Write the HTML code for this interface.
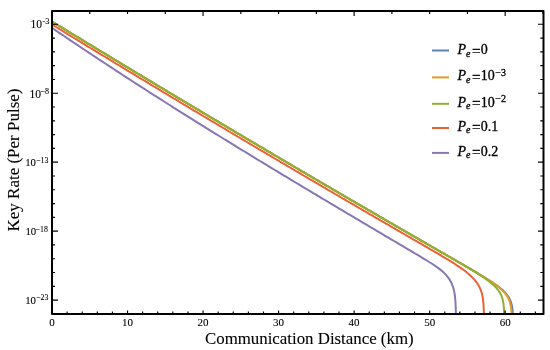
<!DOCTYPE html>
<html><head><meta charset="utf-8"><style>
html,body{margin:0;padding:0;background:#fff;}
svg{display:block;}
text{font-family:"Liberation Serif",serif;fill:#000;stroke:#000;stroke-width:0.3px;}
.tl text{stroke-width:0.08px;}
.tt{stroke-width:0.1px;}
</style></head><body>
<svg width="550" height="350" viewBox="0 0 550 350">
<rect width="550" height="350" fill="#fff"/>
<defs><clipPath id="c"><rect x="52" y="10.5" width="491.5" height="303.4"/></clipPath></defs>
<g clip-path="url(#c)" fill="none" stroke-width="2" stroke-linejoin="round">
<path d="M52.00 21.61 L54.00 22.83 L56.00 24.05 L58.00 25.27 L60.00 26.49 L62.00 27.71 L64.00 28.92 L66.00 30.14 L68.00 31.36 L70.00 32.58 L72.00 33.80 L74.00 35.01 L76.00 36.23 L78.00 37.45 L80.00 38.66 L82.00 39.88 L84.00 41.09 L86.00 42.31 L88.00 43.52 L90.00 44.73 L92.00 45.95 L94.00 47.16 L96.00 48.37 L98.00 49.59 L100.00 50.80 L102.00 52.01 L104.00 53.22 L106.00 54.43 L108.00 55.64 L110.00 56.85 L112.00 58.06 L114.00 59.27 L116.00 60.48 L118.00 61.69 L120.00 62.90 L122.00 64.11 L124.00 65.31 L126.00 66.52 L128.00 67.73 L130.00 68.94 L132.00 70.14 L134.00 71.35 L136.00 72.55 L138.00 73.76 L140.00 74.96 L142.00 76.17 L144.00 77.37 L146.00 78.57 L148.00 79.78 L150.00 80.98 L152.00 82.18 L154.00 83.38 L156.00 84.59 L158.00 85.79 L160.00 86.99 L162.00 88.19 L164.00 89.39 L166.00 90.59 L168.00 91.79 L170.00 92.99 L172.00 94.18 L174.00 95.38 L176.00 96.58 L178.00 97.78 L180.00 98.97 L182.00 100.17 L184.00 101.37 L186.00 102.56 L188.00 103.76 L190.00 104.95 L192.00 106.15 L194.00 107.34 L196.00 108.54 L198.00 109.73 L200.00 110.92 L202.00 112.12 L204.00 113.31 L206.00 114.50 L208.00 115.69 L210.00 116.89 L212.00 118.08 L214.00 119.27 L216.00 120.46 L218.00 121.65 L220.00 122.84 L222.00 124.03 L224.00 125.21 L226.00 126.40 L228.00 127.59 L230.00 128.78 L232.00 129.97 L234.00 131.15 L236.00 132.34 L238.00 133.53 L240.00 134.71 L242.00 135.90 L244.00 137.08 L246.00 138.27 L248.00 139.45 L250.00 140.63 L252.00 141.82 L254.00 143.00 L256.00 144.18 L258.00 145.37 L260.00 146.55 L262.00 147.73 L264.00 148.91 L266.00 150.09 L268.00 151.27 L270.00 152.45 L272.00 153.63 L274.00 154.81 L276.00 155.99 L278.00 157.17 L280.00 158.35 L282.00 159.53 L284.00 160.70 L286.00 161.88 L288.00 163.06 L290.00 164.23 L292.00 165.41 L294.00 166.58 L296.00 167.76 L298.00 168.94 L300.00 170.11 L302.00 171.28 L304.00 172.46 L306.00 173.63 L308.00 174.80 L310.00 175.98 L312.00 177.15 L314.00 178.32 L316.00 179.49 L318.00 180.66 L320.00 181.83 L322.00 183.00 L324.00 184.17 L326.00 185.34 L328.00 186.51 L330.00 187.68 L332.00 188.85 L334.00 190.02 L336.00 191.19 L338.00 192.35 L340.00 193.52 L342.00 194.69 L344.00 195.85 L346.00 197.02 L348.00 198.18 L350.00 199.35 L352.00 200.51 L354.00 201.68 L356.00 202.84 L358.00 204.01 L360.00 205.17 L362.00 206.33 L364.00 207.49 L366.00 208.66 L368.00 209.82 L370.00 210.98 L372.00 212.14 L374.00 213.30 L376.00 214.46 L378.00 215.62 L380.00 216.78 L382.00 217.94 L384.00 219.10 L386.00 220.26 L388.00 221.42 L390.00 222.57 L392.00 223.73 L394.00 224.89 L396.00 226.04 L398.00 227.20 L400.00 228.36 L402.00 229.51 L404.00 230.67 L406.00 231.82 L408.00 232.97 L410.00 234.13 L412.00 235.28 L414.00 236.44 L416.00 237.59 L418.00 238.74 L420.00 239.89 L422.00 241.04 L424.00 242.20 L426.00 243.35 L428.00 244.50 L430.00 245.65 L432.00 246.80 L434.00 247.95 L436.00 249.10 L438.00 250.25 L440.00 251.40 L442.00 252.55 L444.00 253.70 L446.00 254.85 L448.00 256.00 L450.00 257.15 L452.00 258.30 L454.00 259.45 L456.00 260.60 L458.00 261.75 L460.00 262.91 L462.00 264.06 L464.00 265.22 L466.00 266.38 L468.00 267.54 L470.00 268.70 L472.00 269.87 L474.00 271.04 L476.00 272.22 L478.00 273.41 L480.00 274.60 L482.00 275.81 L484.00 277.03 L486.00 278.26 L488.00 279.52 L490.00 280.80 L492.00 282.11 L494.00 283.46 L496.00 284.87 L498.00 286.34 L500.00 287.90 L502.00 289.58 L504.00 291.45 L505.20 292.69 L505.35 292.85 L505.49 293.01 L505.64 293.18 L505.79 293.34 L505.94 293.51 L506.08 293.68 L506.23 293.86 L506.38 294.03 L506.52 294.21 L506.67 294.39 L506.82 294.58 L506.96 294.76 L507.11 294.96 L507.26 295.15 L507.41 295.35 L507.55 295.55 L507.70 295.76 L507.85 295.97 L507.99 296.18 L508.14 296.40 L508.29 296.62 L508.43 296.85 L508.58 297.09 L508.73 297.33 L508.88 297.58 L509.02 297.83 L509.17 298.09 L509.32 298.36 L509.46 298.64 L509.61 298.93 L509.76 299.22 L509.90 299.53 L510.05 299.85 L510.20 300.18 L510.35 300.53 L510.49 300.89 L510.64 301.27 L510.79 301.67 L510.93 302.10 L511.30 303.26 L511.60 304.40 L511.86 305.52 L512.07 306.63 L512.25 307.74 L512.41 308.83 L512.53 309.92 L512.64 310.99 L512.73 312.07 L512.81 313.14 L512.87 314.20 L512.92 315.27 L512.97 316.33 L513.00 317.38 L513.04 318.44 L513.06 319.49 L513.08 320.55 L513.10 321.60 L513.12 322.65 L513.13 323.70 L513.14 324.75 L513.15 325.80 L513.16 326.85 L513.17 327.90 L513.17 328.94 L513.18 329.99 L513.18 330.00" stroke="#5E81B5"/>
<path d="M52.00 21.61 L54.00 22.83 L56.00 24.05 L58.00 25.27 L60.00 26.49 L62.00 27.71 L64.00 28.92 L66.00 30.14 L68.00 31.36 L70.00 32.58 L72.00 33.80 L74.00 35.01 L76.00 36.23 L78.00 37.45 L80.00 38.66 L82.00 39.88 L84.00 41.09 L86.00 42.31 L88.00 43.52 L90.00 44.73 L92.00 45.95 L94.00 47.16 L96.00 48.37 L98.00 49.59 L100.00 50.80 L102.00 52.01 L104.00 53.22 L106.00 54.43 L108.00 55.64 L110.00 56.85 L112.00 58.06 L114.00 59.27 L116.00 60.48 L118.00 61.69 L120.00 62.90 L122.00 64.11 L124.00 65.31 L126.00 66.52 L128.00 67.73 L130.00 68.94 L132.00 70.14 L134.00 71.35 L136.00 72.55 L138.00 73.76 L140.00 74.96 L142.00 76.17 L144.00 77.37 L146.00 78.57 L148.00 79.78 L150.00 80.98 L152.00 82.18 L154.00 83.38 L156.00 84.59 L158.00 85.79 L160.00 86.99 L162.00 88.19 L164.00 89.39 L166.00 90.59 L168.00 91.79 L170.00 92.99 L172.00 94.18 L174.00 95.38 L176.00 96.58 L178.00 97.78 L180.00 98.97 L182.00 100.17 L184.00 101.37 L186.00 102.56 L188.00 103.76 L190.00 104.95 L192.00 106.15 L194.00 107.34 L196.00 108.54 L198.00 109.73 L200.00 110.92 L202.00 112.12 L204.00 113.31 L206.00 114.50 L208.00 115.69 L210.00 116.89 L212.00 118.08 L214.00 119.27 L216.00 120.46 L218.00 121.65 L220.00 122.84 L222.00 124.03 L224.00 125.21 L226.00 126.40 L228.00 127.59 L230.00 128.78 L232.00 129.97 L234.00 131.15 L236.00 132.34 L238.00 133.53 L240.00 134.71 L242.00 135.90 L244.00 137.08 L246.00 138.27 L248.00 139.45 L250.00 140.63 L252.00 141.82 L254.00 143.00 L256.00 144.18 L258.00 145.37 L260.00 146.55 L262.00 147.73 L264.00 148.91 L266.00 150.09 L268.00 151.27 L270.00 152.45 L272.00 153.63 L274.00 154.81 L276.00 155.99 L278.00 157.17 L280.00 158.35 L282.00 159.53 L284.00 160.70 L286.00 161.88 L288.00 163.06 L290.00 164.23 L292.00 165.41 L294.00 166.58 L296.00 167.76 L298.00 168.94 L300.00 170.11 L302.00 171.28 L304.00 172.46 L306.00 173.63 L308.00 174.80 L310.00 175.98 L312.00 177.15 L314.00 178.32 L316.00 179.49 L318.00 180.66 L320.00 181.83 L322.00 183.00 L324.00 184.17 L326.00 185.34 L328.00 186.51 L330.00 187.68 L332.00 188.85 L334.00 190.02 L336.00 191.19 L338.00 192.35 L340.00 193.52 L342.00 194.69 L344.00 195.85 L346.00 197.02 L348.00 198.18 L350.00 199.35 L352.00 200.51 L354.00 201.68 L356.00 202.84 L358.00 204.01 L360.00 205.17 L362.00 206.33 L364.00 207.49 L366.00 208.66 L368.00 209.82 L370.00 210.98 L372.00 212.14 L374.00 213.30 L376.00 214.46 L378.00 215.62 L380.00 216.78 L382.00 217.94 L384.00 219.10 L386.00 220.26 L388.00 221.42 L390.00 222.57 L392.00 223.73 L394.00 224.89 L396.00 226.04 L398.00 227.20 L400.00 228.36 L402.00 229.51 L404.00 230.67 L406.00 231.82 L408.00 232.97 L410.00 234.13 L412.00 235.28 L414.00 236.44 L416.00 237.59 L418.00 238.74 L420.00 239.89 L422.00 241.04 L424.00 242.20 L426.00 243.35 L428.00 244.50 L430.00 245.65 L432.00 246.80 L434.00 247.95 L436.00 249.10 L438.00 250.25 L440.00 251.40 L442.00 252.55 L444.00 253.70 L446.00 254.85 L448.00 256.00 L450.00 257.15 L452.00 258.30 L454.00 259.45 L456.00 260.60 L458.00 261.76 L460.00 262.91 L462.00 264.07 L464.00 265.23 L466.00 266.39 L468.00 267.55 L470.00 268.72 L472.00 269.89 L474.00 271.07 L476.00 272.25 L478.00 273.44 L480.00 274.64 L482.00 275.86 L484.00 277.09 L486.00 278.34 L488.00 279.61 L490.00 280.91 L492.00 282.25 L494.00 283.63 L496.00 285.07 L498.00 286.60 L500.00 288.24 L502.00 290.03 L503.90 291.95 L504.05 292.11 L504.19 292.27 L504.34 292.44 L504.49 292.60 L504.64 292.77 L504.78 292.94 L504.93 293.12 L505.08 293.29 L505.22 293.47 L505.37 293.65 L505.52 293.84 L505.66 294.03 L505.81 294.22 L505.96 294.41 L506.11 294.61 L506.25 294.81 L506.40 295.02 L506.55 295.23 L506.69 295.44 L506.84 295.66 L506.99 295.89 L507.13 296.11 L507.28 296.35 L507.43 296.59 L507.58 296.84 L507.72 297.09 L507.87 297.35 L508.02 297.62 L508.16 297.90 L508.31 298.19 L508.46 298.49 L508.60 298.79 L508.75 299.11 L508.90 299.45 L509.05 299.79 L509.19 300.16 L509.34 300.54 L509.49 300.94 L509.63 301.36 L510.00 302.52 L510.30 303.66 L510.56 304.78 L510.77 305.90 L510.95 307.00 L511.11 308.09 L511.23 309.18 L511.34 310.26 L511.43 311.33 L511.51 312.40 L511.57 313.47 L511.62 314.53 L511.67 315.59 L511.70 316.65 L511.74 317.70 L511.76 318.76 L511.78 319.81 L511.80 320.86 L511.82 321.91 L511.83 322.96 L511.84 324.01 L511.85 325.06 L511.86 326.11 L511.87 327.16 L511.87 328.21 L511.88 329.26 L511.88 330.00" stroke="#E19C24"/>
<path d="M52.00 21.61 L54.00 22.83 L56.00 24.05 L58.00 25.27 L60.00 26.49 L62.00 27.71 L64.00 28.92 L66.00 30.14 L68.00 31.36 L70.00 32.58 L72.00 33.80 L74.00 35.01 L76.00 36.23 L78.00 37.45 L80.00 38.66 L82.00 39.88 L84.00 41.09 L86.00 42.31 L88.00 43.52 L90.00 44.73 L92.00 45.95 L94.00 47.16 L96.00 48.37 L98.00 49.59 L100.00 50.80 L102.00 52.01 L104.00 53.22 L106.00 54.43 L108.00 55.64 L110.00 56.85 L112.00 58.06 L114.00 59.27 L116.00 60.48 L118.00 61.69 L120.00 62.90 L122.00 64.11 L124.00 65.31 L126.00 66.52 L128.00 67.73 L130.00 68.94 L132.00 70.14 L134.00 71.35 L136.00 72.55 L138.00 73.76 L140.00 74.96 L142.00 76.17 L144.00 77.37 L146.00 78.57 L148.00 79.78 L150.00 80.98 L152.00 82.18 L154.00 83.38 L156.00 84.59 L158.00 85.79 L160.00 86.99 L162.00 88.19 L164.00 89.39 L166.00 90.59 L168.00 91.79 L170.00 92.99 L172.00 94.18 L174.00 95.38 L176.00 96.58 L178.00 97.78 L180.00 98.97 L182.00 100.17 L184.00 101.37 L186.00 102.56 L188.00 103.76 L190.00 104.95 L192.00 106.15 L194.00 107.34 L196.00 108.54 L198.00 109.73 L200.00 110.92 L202.00 112.12 L204.00 113.31 L206.00 114.50 L208.00 115.69 L210.00 116.89 L212.00 118.08 L214.00 119.27 L216.00 120.46 L218.00 121.65 L220.00 122.84 L222.00 124.03 L224.00 125.21 L226.00 126.40 L228.00 127.59 L230.00 128.78 L232.00 129.97 L234.00 131.15 L236.00 132.34 L238.00 133.53 L240.00 134.71 L242.00 135.90 L244.00 137.08 L246.00 138.27 L248.00 139.45 L250.00 140.63 L252.00 141.82 L254.00 143.00 L256.00 144.18 L258.00 145.37 L260.00 146.55 L262.00 147.73 L264.00 148.91 L266.00 150.09 L268.00 151.27 L270.00 152.45 L272.00 153.63 L274.00 154.81 L276.00 155.99 L278.00 157.17 L280.00 158.35 L282.00 159.53 L284.00 160.70 L286.00 161.88 L288.00 163.06 L290.00 164.23 L292.00 165.41 L294.00 166.58 L296.00 167.76 L298.00 168.94 L300.00 170.11 L302.00 171.28 L304.00 172.46 L306.00 173.63 L308.00 174.80 L310.00 175.98 L312.00 177.15 L314.00 178.32 L316.00 179.49 L318.00 180.66 L320.00 181.83 L322.00 183.00 L324.00 184.17 L326.00 185.34 L328.00 186.51 L330.00 187.68 L332.00 188.85 L334.00 190.02 L336.00 191.19 L338.00 192.35 L340.00 193.52 L342.00 194.69 L344.00 195.85 L346.00 197.02 L348.00 198.18 L350.00 199.35 L352.00 200.51 L354.00 201.68 L356.00 202.84 L358.00 204.01 L360.00 205.17 L362.00 206.33 L364.00 207.49 L366.00 208.66 L368.00 209.82 L370.00 210.98 L372.00 212.14 L374.00 213.30 L376.00 214.46 L378.00 215.62 L380.00 216.78 L382.00 217.94 L384.00 219.10 L386.00 220.26 L388.00 221.42 L390.00 222.57 L392.00 223.73 L394.00 224.89 L396.00 226.04 L398.00 227.20 L400.00 228.36 L402.00 229.51 L404.00 230.67 L406.00 231.82 L408.00 232.98 L410.00 234.13 L412.00 235.28 L414.00 236.44 L416.00 237.59 L418.00 238.74 L420.00 239.90 L422.00 241.05 L424.00 242.20 L426.00 243.35 L428.00 244.51 L430.00 245.66 L432.00 246.81 L434.00 247.96 L436.00 249.11 L438.00 250.27 L440.00 251.42 L442.00 252.57 L444.00 253.73 L446.00 254.88 L448.00 256.04 L450.00 257.19 L452.00 258.35 L454.00 259.51 L456.00 260.67 L458.00 261.84 L460.00 263.01 L462.00 264.18 L464.00 265.36 L466.00 266.54 L468.00 267.73 L470.00 268.93 L472.00 270.14 L474.00 271.36 L476.00 272.60 L478.00 273.85 L480.00 275.13 L482.00 276.44 L484.00 277.79 L486.00 279.18 L488.00 280.63 L490.00 282.16 L492.00 283.80 L494.00 285.58 L496.00 287.58 L496.30 287.90 L496.45 288.06 L496.59 288.23 L496.74 288.39 L496.89 288.56 L497.04 288.73 L497.18 288.91 L497.33 289.08 L497.48 289.26 L497.62 289.44 L497.77 289.62 L497.92 289.81 L498.06 290.00 L498.21 290.19 L498.36 290.39 L498.51 290.59 L498.65 290.79 L498.80 291.00 L498.95 291.22 L499.09 291.43 L499.24 291.65 L499.39 291.88 L499.53 292.11 L499.68 292.35 L499.83 292.59 L499.98 292.84 L500.12 293.10 L500.27 293.36 L500.42 293.63 L500.56 293.91 L500.71 294.20 L500.86 294.50 L501.00 294.81 L501.15 295.13 L501.30 295.47 L501.45 295.82 L501.59 296.18 L501.74 296.57 L501.89 296.97 L502.03 297.39 L502.40 298.56 L502.70 299.71 L502.96 300.83 L503.17 301.95 L503.35 303.06 L503.51 304.15 L503.63 305.24 L503.74 306.32 L503.83 307.40 L503.91 308.47 L503.97 309.53 L504.02 310.60 L504.07 311.66 L504.10 312.72 L504.14 313.77 L504.16 314.83 L504.18 315.88 L504.20 316.93 L504.22 317.98 L504.23 319.03 L504.24 320.08 L504.25 321.13 L504.26 322.18 L504.27 323.23 L504.27 324.28 L504.28 325.33 L504.28 326.38 L504.28 327.42 L504.29 328.47 L504.29 329.52 L504.29 330.00" stroke="#8FB032"/>
<path d="M52.00 24.53 L54.00 25.76 L56.00 26.98 L58.00 28.21 L60.00 29.43 L62.00 30.65 L64.00 31.88 L66.00 33.10 L68.00 34.32 L70.00 35.54 L72.00 36.77 L74.00 37.99 L76.00 39.21 L78.00 40.43 L80.00 41.65 L82.00 42.87 L84.00 44.09 L86.00 45.31 L88.00 46.52 L90.00 47.74 L92.00 48.96 L94.00 50.18 L96.00 51.39 L98.00 52.61 L100.00 53.83 L102.00 55.04 L104.00 56.26 L106.00 57.47 L108.00 58.68 L110.00 59.90 L112.00 61.11 L114.00 62.33 L116.00 63.54 L118.00 64.75 L120.00 65.96 L122.00 67.17 L124.00 68.38 L126.00 69.60 L128.00 70.81 L130.00 72.02 L132.00 73.23 L134.00 74.43 L136.00 75.64 L138.00 76.85 L140.00 78.06 L142.00 79.27 L144.00 80.47 L146.00 81.68 L148.00 82.89 L150.00 84.09 L152.00 85.30 L154.00 86.50 L156.00 87.71 L158.00 88.91 L160.00 90.12 L162.00 91.32 L164.00 92.52 L166.00 93.73 L168.00 94.93 L170.00 96.13 L172.00 97.33 L174.00 98.53 L176.00 99.73 L178.00 100.93 L180.00 102.13 L182.00 103.33 L184.00 104.53 L186.00 105.73 L188.00 106.93 L190.00 108.13 L192.00 109.32 L194.00 110.52 L196.00 111.72 L198.00 112.91 L200.00 114.11 L202.00 115.31 L204.00 116.50 L206.00 117.70 L208.00 118.89 L210.00 120.08 L212.00 121.28 L214.00 122.47 L216.00 123.66 L218.00 124.86 L220.00 126.05 L222.00 127.24 L224.00 128.43 L226.00 129.62 L228.00 130.81 L230.00 132.00 L232.00 133.19 L234.00 134.38 L236.00 135.57 L238.00 136.76 L240.00 137.94 L242.00 139.13 L244.00 140.32 L246.00 141.51 L248.00 142.69 L250.00 143.88 L252.00 145.06 L254.00 146.25 L256.00 147.43 L258.00 148.62 L260.00 149.80 L262.00 150.98 L264.00 152.17 L266.00 153.35 L268.00 154.53 L270.00 155.71 L272.00 156.90 L274.00 158.08 L276.00 159.26 L278.00 160.44 L280.00 161.62 L282.00 162.80 L284.00 163.98 L286.00 165.16 L288.00 166.33 L290.00 167.51 L292.00 168.69 L294.00 169.87 L296.00 171.04 L298.00 172.22 L300.00 173.40 L302.00 174.57 L304.00 175.75 L306.00 176.92 L308.00 178.09 L310.00 179.27 L312.00 180.44 L314.00 181.62 L316.00 182.79 L318.00 183.96 L320.00 185.13 L322.00 186.30 L324.00 187.47 L326.00 188.65 L328.00 189.82 L330.00 190.99 L332.00 192.16 L334.00 193.32 L336.00 194.49 L338.00 195.66 L340.00 196.83 L342.00 198.00 L344.00 199.16 L346.00 200.33 L348.00 201.50 L350.00 202.66 L352.00 203.83 L354.00 204.99 L356.00 206.16 L358.00 207.32 L360.00 208.49 L362.00 209.65 L364.00 210.81 L366.00 211.98 L368.00 213.14 L370.00 214.30 L372.00 215.46 L374.00 216.62 L376.00 217.78 L378.00 218.94 L380.00 220.10 L382.00 221.26 L384.00 222.42 L386.00 223.58 L388.00 224.74 L390.00 225.90 L392.00 227.06 L394.00 228.21 L396.00 229.37 L398.00 230.53 L400.00 231.68 L402.00 232.84 L404.00 234.00 L406.00 235.15 L408.00 236.31 L410.00 237.46 L412.00 238.62 L414.00 239.77 L416.00 240.93 L418.00 242.09 L420.00 243.24 L422.00 244.40 L424.00 245.56 L426.00 246.72 L428.00 247.88 L430.00 249.04 L432.00 250.21 L434.00 251.37 L436.00 252.55 L438.00 253.72 L440.00 254.90 L442.00 256.09 L444.00 257.29 L446.00 258.49 L448.00 259.71 L450.00 260.94 L452.00 262.19 L454.00 263.46 L456.00 264.75 L458.00 266.08 L460.00 267.44 L462.00 268.84 L464.00 270.30 L466.00 271.83 L468.00 273.45 L470.00 275.19 L472.00 277.07 L474.00 279.16 L476.00 281.56 L476.15 281.75 L476.29 281.95 L476.44 282.15 L476.59 282.35 L476.74 282.55 L476.88 282.76 L477.03 282.97 L477.18 283.18 L477.32 283.40 L477.47 283.62 L477.62 283.84 L477.76 284.07 L477.91 284.30 L478.06 284.54 L478.21 284.78 L478.35 285.02 L478.50 285.27 L478.65 285.53 L478.79 285.79 L478.94 286.06 L479.09 286.33 L479.23 286.62 L479.38 286.90 L479.53 287.20 L479.68 287.50 L479.82 287.81 L479.97 288.14 L480.12 288.47 L480.26 288.81 L480.41 289.16 L480.56 289.53 L480.70 289.91 L480.85 290.30 L481.00 290.71 L481.15 291.14 L481.29 291.59 L481.44 292.06 L481.59 292.55 L481.73 293.07 L482.10 294.50 L482.40 295.91 L482.66 297.30 L482.87 298.67 L483.05 300.03 L483.21 301.37 L483.33 302.70 L483.44 304.03 L483.53 305.35 L483.61 306.66 L483.67 307.97 L483.72 309.27 L483.77 310.57 L483.80 311.86 L483.84 313.15 L483.86 314.44 L483.88 315.73 L483.90 317.01 L483.92 318.30 L483.93 319.58 L483.94 320.86 L483.95 322.15 L483.96 323.43 L483.97 324.71 L483.97 325.99 L483.98 327.26 L483.98 328.54 L483.98 329.82 L483.99 330.00" stroke="#EB6235"/>
<path d="M52.00 27.88 L54.00 29.24 L56.00 30.60 L58.00 31.96 L60.00 33.32 L62.00 34.68 L64.00 36.03 L66.00 37.38 L68.00 38.73 L70.00 40.08 L72.00 41.42 L74.00 42.77 L76.00 44.11 L78.00 45.45 L80.00 46.79 L82.00 48.13 L84.00 49.46 L86.00 50.79 L88.00 52.13 L90.00 53.45 L92.00 54.78 L94.00 56.11 L96.00 57.43 L98.00 58.75 L100.00 60.07 L102.00 61.39 L104.00 62.71 L106.00 64.03 L108.00 65.34 L110.00 66.65 L112.00 67.96 L114.00 69.27 L116.00 70.58 L118.00 71.88 L120.00 73.19 L122.00 74.49 L124.00 75.79 L126.00 77.09 L128.00 78.38 L130.00 79.68 L132.00 80.97 L134.00 82.27 L136.00 83.56 L138.00 84.85 L140.00 86.13 L142.00 87.42 L144.00 88.70 L146.00 89.99 L148.00 91.27 L150.00 92.55 L152.00 93.83 L154.00 95.10 L156.00 96.38 L158.00 97.66 L160.00 98.93 L162.00 100.20 L164.00 101.47 L166.00 102.74 L168.00 104.01 L170.00 105.27 L172.00 106.54 L174.00 107.80 L176.00 109.06 L178.00 110.32 L180.00 111.58 L182.00 112.84 L184.00 114.10 L186.00 115.35 L188.00 116.61 L190.00 117.86 L192.00 119.11 L194.00 120.36 L196.00 121.61 L198.00 122.86 L200.00 124.11 L202.00 125.35 L204.00 126.59 L206.00 127.84 L208.00 129.08 L210.00 130.32 L212.00 131.56 L214.00 132.80 L216.00 134.04 L218.00 135.27 L220.00 136.51 L222.00 137.74 L224.00 138.98 L226.00 140.21 L228.00 141.44 L230.00 142.67 L232.00 143.90 L234.00 145.13 L236.00 146.35 L238.00 147.58 L240.00 148.80 L242.00 150.03 L244.00 151.25 L246.00 152.47 L248.00 153.69 L250.00 154.91 L252.00 156.13 L254.00 157.35 L256.00 158.57 L258.00 159.78 L260.00 161.00 L262.00 162.21 L264.00 163.43 L266.00 164.64 L268.00 165.85 L270.00 167.07 L272.00 168.28 L274.00 169.49 L276.00 170.69 L278.00 171.90 L280.00 173.11 L282.00 174.32 L284.00 175.52 L286.00 176.73 L288.00 177.93 L290.00 179.14 L292.00 180.34 L294.00 181.54 L296.00 182.74 L298.00 183.94 L300.00 185.14 L302.00 186.34 L304.00 187.54 L306.00 188.74 L308.00 189.94 L310.00 191.14 L312.00 192.33 L314.00 193.53 L316.00 194.72 L318.00 195.92 L320.00 197.11 L322.00 198.31 L324.00 199.50 L326.00 200.69 L328.00 201.88 L330.00 203.08 L332.00 204.27 L334.00 205.46 L336.00 206.65 L338.00 207.84 L340.00 209.03 L342.00 210.21 L344.00 211.40 L346.00 212.59 L348.00 213.78 L350.00 214.97 L352.00 216.15 L354.00 217.34 L356.00 218.53 L358.00 219.71 L360.00 220.90 L362.00 222.08 L364.00 223.27 L366.00 224.45 L368.00 225.63 L370.00 226.82 L372.00 228.00 L374.00 229.19 L376.00 230.37 L378.00 231.55 L380.00 232.73 L382.00 233.92 L384.00 235.10 L386.00 236.28 L388.00 237.46 L390.00 238.64 L392.00 239.83 L394.00 241.01 L396.00 242.19 L398.00 243.37 L400.00 244.55 L402.00 245.73 L404.00 246.91 L406.00 248.09 L408.00 249.28 L410.00 250.46 L412.00 251.64 L414.00 252.83 L416.00 254.01 L418.00 255.20 L420.00 256.39 L422.00 257.59 L424.00 258.79 L426.00 260.01 L428.00 261.24 L430.00 262.49 L432.00 263.77 L434.00 265.08 L436.00 266.44 L438.00 267.87 L440.00 269.39 L442.00 271.04 L444.00 272.85 L446.00 274.90 L448.00 277.30 L448.15 277.50 L448.29 277.70 L448.44 277.90 L448.59 278.10 L448.74 278.31 L448.88 278.52 L449.03 278.74 L449.18 278.96 L449.32 279.18 L449.47 279.41 L449.62 279.64 L449.76 279.88 L449.91 280.12 L450.06 280.37 L450.21 280.62 L450.35 280.88 L450.50 281.14 L450.65 281.41 L450.79 281.68 L450.94 281.97 L451.09 282.26 L451.23 282.55 L451.38 282.86 L451.53 283.18 L451.68 283.50 L451.82 283.83 L451.97 284.18 L452.12 284.53 L452.26 284.90 L452.41 285.28 L452.56 285.68 L452.70 286.09 L452.85 286.51 L453.00 286.96 L453.15 287.43 L453.29 287.92 L453.44 288.43 L453.59 288.97 L453.73 289.54 L454.10 291.12 L454.40 292.67 L454.66 294.21 L454.87 295.74 L455.05 297.25 L455.21 298.75 L455.33 300.24 L455.44 301.73 L455.53 303.20 L455.61 304.67 L455.67 306.14 L455.72 307.60 L455.77 309.05 L455.80 310.50 L455.84 311.95 L455.86 313.40 L455.88 314.85 L455.90 316.29 L455.92 317.73 L455.93 319.17 L455.94 320.61 L455.95 322.05 L455.96 323.49 L455.97 324.93 L455.97 326.36 L455.98 327.80 L455.98 329.23 L455.98 330.00" stroke="#8778B3"/>
</g>
<g fill="none" stroke="#000" stroke-width="1.15">
<path d="M67.11 313.90 V311.40 M82.21 313.90 V311.40 M97.32 313.90 V311.40 M112.42 313.90 V311.40 M127.53 313.90 V310.60 M142.64 313.90 V311.40 M157.74 313.90 V311.40 M172.85 313.90 V311.40 M187.95 313.90 V311.40 M203.06 313.90 V310.60 M218.17 313.90 V311.40 M233.27 313.90 V311.40 M248.38 313.90 V311.40 M263.48 313.90 V311.40 M278.59 313.90 V310.60 M293.70 313.90 V311.40 M308.80 313.90 V311.40 M323.91 313.90 V311.40 M339.01 313.90 V311.40 M354.12 313.90 V310.60 M369.23 313.90 V311.40 M384.33 313.90 V311.40 M399.44 313.90 V311.40 M414.54 313.90 V311.40 M429.65 313.90 V310.60 M444.76 313.90 V311.40 M459.86 313.90 V311.40 M474.97 313.90 V311.40 M490.07 313.90 V311.40 M505.18 313.90 V310.60 M520.29 313.90 V311.40 M535.39 313.90 V311.40 M89.77 10.90 V13.90 M127.53 10.90 V13.90 M165.30 10.90 V13.90 M203.06 10.90 V15.90 M240.82 10.90 V13.90 M278.59 10.90 V13.90 M316.36 10.90 V13.90 M354.12 10.90 V15.90 M391.88 10.90 V13.90 M429.65 10.90 V13.90 M467.42 10.90 V13.90 M505.18 10.90 V15.90 M542.94 10.90 V13.90 M52.00 24.29 H58.00 M543.50 24.29 H538.00 M52.00 38.08 H55.00 M543.50 38.08 H540.30 M52.00 51.87 H55.00 M543.50 51.87 H540.30 M52.00 65.66 H55.00 M543.50 65.66 H540.30 M52.00 79.45 H55.00 M543.50 79.45 H540.30 M52.00 93.24 H58.00 M543.50 93.24 H538.00 M52.00 107.03 H55.00 M543.50 107.03 H540.30 M52.00 120.82 H55.00 M543.50 120.82 H540.30 M52.00 134.61 H55.00 M543.50 134.61 H540.30 M52.00 148.40 H55.00 M543.50 148.40 H540.30 M52.00 162.19 H58.00 M543.50 162.19 H538.00 M52.00 175.98 H55.00 M543.50 175.98 H540.30 M52.00 189.77 H55.00 M543.50 189.77 H540.30 M52.00 203.56 H55.00 M543.50 203.56 H540.30 M52.00 217.35 H55.00 M543.50 217.35 H540.30 M52.00 231.14 H58.00 M543.50 231.14 H538.00 M52.00 244.93 H55.00 M543.50 244.93 H540.30 M52.00 258.72 H55.00 M543.50 258.72 H540.30 M52.00 272.51 H55.00 M543.50 272.51 H540.30 M52.00 286.30 H55.00 M543.50 286.30 H540.30 M52.00 300.09 H58.00 M543.50 300.09 H538.00"/>
</g>
<rect x="52" y="10.9" width="491.5" height="303.0" fill="none" stroke="#000" stroke-width="2" stroke-linejoin="round"/>
<g class="tl" font-size="11" text-anchor="middle">
<text x="52.00" y="326">0</text>
<text x="127.53" y="326">10</text>
<text x="203.06" y="326">20</text>
<text x="278.59" y="326">30</text>
<text x="354.12" y="326">40</text>
<text x="429.65" y="326">50</text>
<text x="505.18" y="326">60</text>
</g>
<g class="tl" font-size="11">
<text x="30.4" y="27.5" font-size="11.6">10<tspan x="42.6" y="23.7" font-size="8.3">-3</tspan></text>
<text x="29.4" y="97.6" font-size="11.6">10<tspan x="40.4" y="94.2" font-size="8.0">&#8722;8</tspan></text>
<text x="25.2" y="165.5" font-size="10.8">10<tspan x="36.2" y="162.6" font-size="7.8">&#8722;13</tspan></text>
<text x="25.4" y="235.4" font-size="10.8">10<tspan x="35.6" y="231.6" font-size="7.8">&#8722;18</tspan></text>
<text x="25.2" y="303.9" font-size="10.8">10<tspan x="36.2" y="300.1" font-size="7.8">&#8722;23</tspan></text>
</g>
<text class="tt" x="309.3" y="344" font-size="16.85" text-anchor="middle">Communication Distance (km)</text>
<text class="tt" transform="translate(18.5 160) rotate(-90)" font-size="17" text-anchor="middle">Key Rate (Per Pulse)</text>
<g fill="none" stroke-width="2">
</g>
<g font-size="14">
<path d="M432 50.50 H449" stroke="#5E81B5" stroke-width="2"/>
<text y="54.20"><tspan x="457.4" font-style="italic">P</tspan><tspan x="466" y="56.80" font-style="italic" font-size="10">e</tspan><tspan x="471.9" y="55.50" font-size="15.2">=</tspan><tspan x="480.8" y="54.20">0</tspan></text>
<path d="M432 77.40 H449" stroke="#E19C24" stroke-width="2"/>
<text y="80.20"><tspan x="457.4" font-style="italic">P</tspan><tspan x="466" y="82.80" font-style="italic" font-size="10">e</tspan><tspan x="471.9" y="81.50" font-size="15.2">=</tspan><tspan x="480.8" y="80.20">10</tspan><tspan x="495.3" y="75.70" font-size="10">&#8722;3</tspan></text>
<path d="M432 103.80 H449" stroke="#8FB032" stroke-width="2"/>
<text y="106.60"><tspan x="457.4" font-style="italic">P</tspan><tspan x="466" y="109.20" font-style="italic" font-size="10">e</tspan><tspan x="471.9" y="107.90" font-size="15.2">=</tspan><tspan x="480.8" y="106.60">10</tspan><tspan x="495.3" y="102.10" font-size="10">&#8722;2</tspan></text>
<path d="M432 128.00 H449" stroke="#EB6235" stroke-width="2"/>
<text y="130.80"><tspan x="457.4" font-style="italic">P</tspan><tspan x="466" y="133.40" font-style="italic" font-size="10">e</tspan><tspan x="471.9" y="132.10" font-size="15.2">=</tspan><tspan x="480.8" y="130.80">0.1</tspan></text>
<path d="M432 152.90 H449" stroke="#8778B3" stroke-width="2"/>
<text y="155.70"><tspan x="457.4" font-style="italic">P</tspan><tspan x="466" y="158.30" font-style="italic" font-size="10">e</tspan><tspan x="471.9" y="157.00" font-size="15.2">=</tspan><tspan x="480.8" y="155.70">0.2</tspan></text>
</g>
</svg>
</body></html>
